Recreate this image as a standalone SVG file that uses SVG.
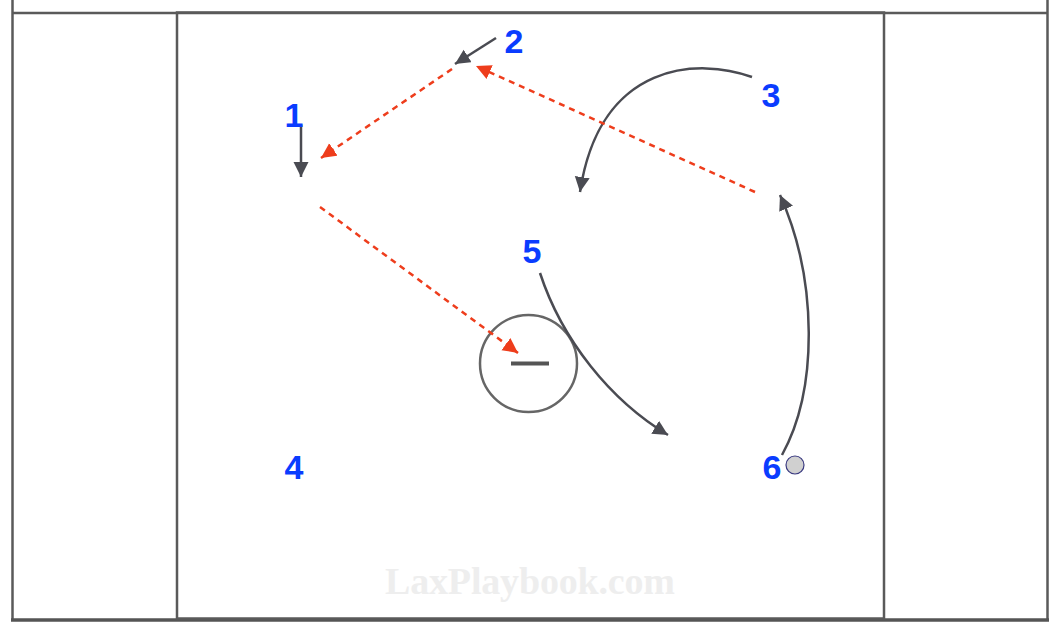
<svg xmlns="http://www.w3.org/2000/svg" width="1058" height="628" viewBox="0 0 1058 628">
<defs>
<marker id="ag" markerUnits="userSpaceOnUse" markerWidth="18" markerHeight="16" refX="15" refY="7.5" orient="auto"><path d="M0,0 L15,7.5 L0,15 Z" fill="#4a4b52"/></marker>
<marker id="ar" markerUnits="userSpaceOnUse" markerWidth="18" markerHeight="16" refX="15" refY="7.5" orient="auto"><path d="M0,0 L15,7.5 L0,15 Z" fill="#ee3d1c"/></marker>
<style>
.field{fill:none;stroke:#5a5a5a;stroke-width:2.5}
.run{fill:none;stroke:#4a4b52;stroke-width:2.5;marker-end:url(#ag)}
.pass{fill:none;stroke:#ee3d1c;stroke-width:2.5;stroke-dasharray:6 5;marker-end:url(#ar)}
.num{font-family:"Liberation Sans",Arial,sans-serif;font-weight:bold;font-size:34px;fill:#0a3cff;text-anchor:middle}
</style>
</defs>
<rect width="1058" height="628" fill="#ffffff"/>
<g id="field">
<line class="field" x1="12.5" y1="0" x2="12.5" y2="620"/>
<line class="field" x1="1047.5" y1="0" x2="1047.5" y2="620"/>
<line class="field" x1="12" y1="13" x2="1048" y2="13"/>
<line x1="11" y1="620" x2="1049" y2="620" stroke="#555" stroke-width="3.5"/>
<rect class="field" x="177" y="12.5" width="707" height="606"/>
</g>
<text id="watermark" x="385" y="594" textLength="290" font-family="Liberation Serif,serif" font-weight="bold" font-size="38" fill="#eeeeee">LaxPlaybook.com</text>
<g id="crease">
<circle cx="528.5" cy="363.5" r="48.5" fill="none" stroke="#666" stroke-width="2.5"/>
<line x1="511" y1="363.5" x2="549" y2="363.5" stroke="#555" stroke-width="4"/>
</g>
<g id="connectors">
<path class="run" d="M301,125 L301,177"/>
<path class="run" d="M496,38 L455,64"/>
<path class="run" d="M752,77 C700,58 600,60 580,192"/>
<path class="run" d="M540,273 C562,340 610,400 668,435"/>
<path class="run" d="M782,455 C818,390 818,280 780,195"/>
<path class="pass" d="M755,192 L476,66"/>
<path class="pass" d="M452,69 L321,158"/>
<path class="pass" d="M320,207 L518,353"/>
</g>
<g id="p1"><text class="num" x="294" y="127">1</text></g>
<g id="p2"><text class="num" x="514" y="53">2</text></g>
<g id="p3"><text class="num" x="771" y="107">3</text></g>
<g id="p4"><text class="num" x="294" y="479">4</text></g>
<g id="p5"><text class="num" x="532" y="263">5</text></g>
<g id="p6"><text class="num" x="772" y="479">6</text></g>
<g id="ball"><circle cx="795" cy="465" r="9" fill="#d0d0d0" stroke="#3a3a80" stroke-width="1.2"/></g>
</svg>
